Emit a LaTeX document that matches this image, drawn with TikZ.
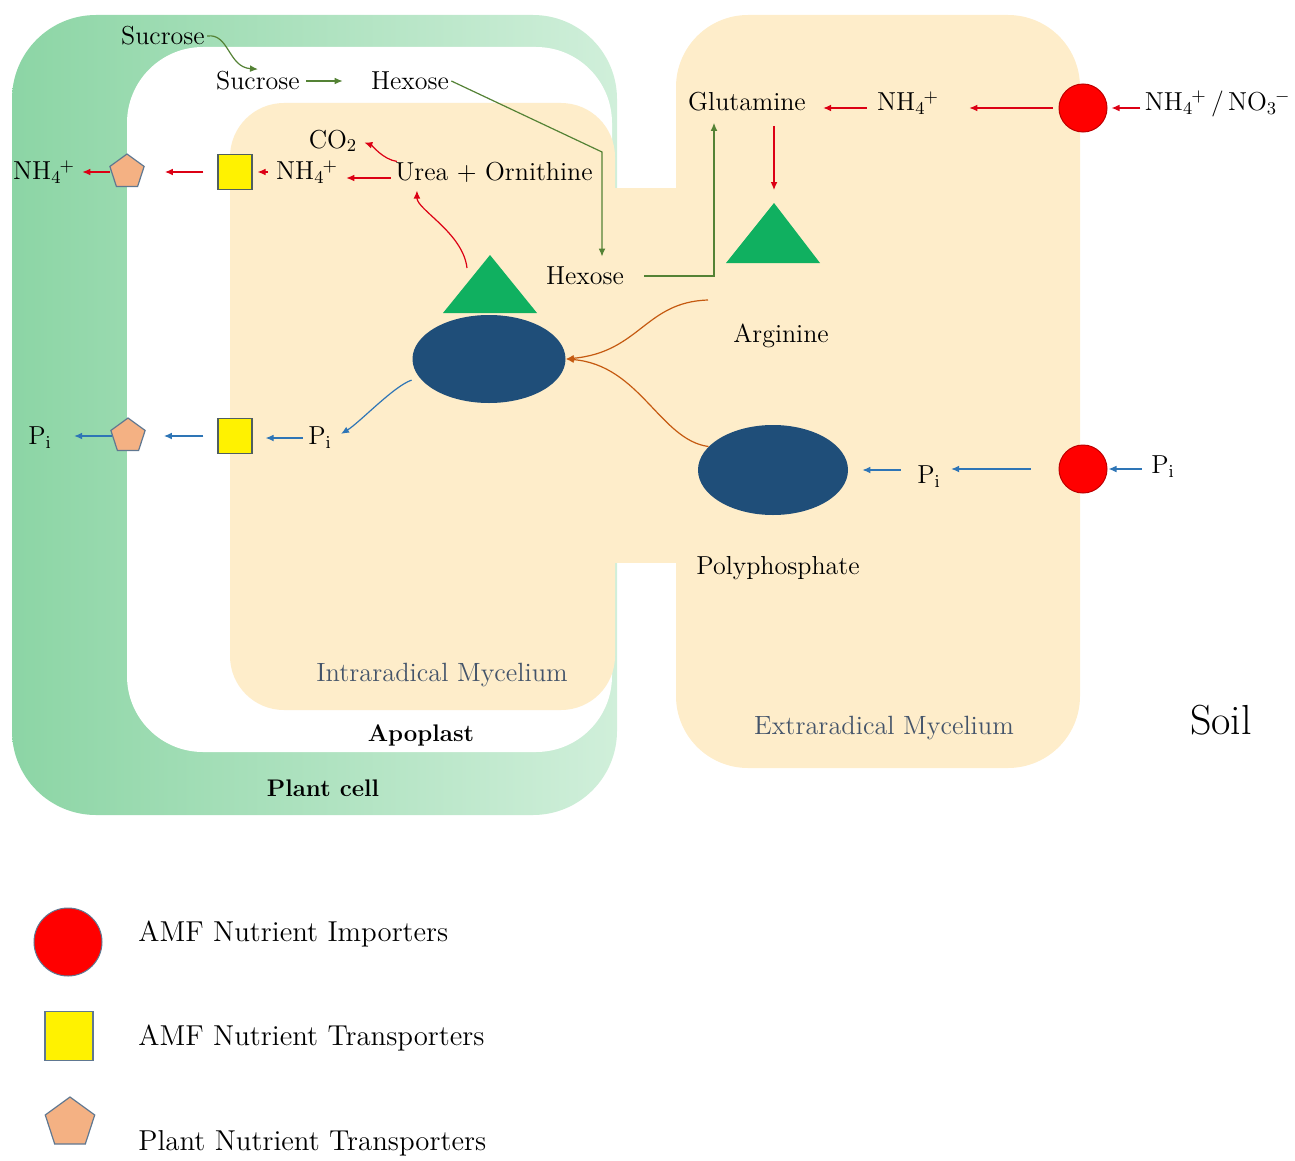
\documentclass[tikz,border=0pt]{standalone}
\usetikzlibrary{shapes.geometric,arrows.meta,calc}
\definecolor{myc}{RGB}{254,237,202}
\definecolor{pgL}{RGB}{140,213,165}
\definecolor{pgR}{RGB}{208,239,218}
\definecolor{dkblue}{RGB}{31,78,121}
\definecolor{trig}{RGB}{16,176,96}
\definecolor{arred}{RGB}{220,0,20}
\definecolor{arblue}{RGB}{46,117,182}
\definecolor{argreen}{RGB}{84,130,53}
\definecolor{arbrown}{RGB}{197,90,17}
\definecolor{pentc}{RGB}{244,177,131}
\definecolor{outl}{RGB}{96,120,145}
\definecolor{sqout}{RGB}{80,95,95}
\definecolor{labc}{RGB}{68,84,106}
\newcommand{\nhfour}{NH$_4\mkern-1.5mu{}^+$}
\begin{document}
\begin{tikzpicture}[x=0.5pt,y=-0.5pt,
 txt/.style={inner sep=1pt,font=\fontsize{13}{15}\selectfont},
 lab/.style={inner sep=1pt,font=\fontsize{13.2}{15}\selectfont,text=labc},
 boldlab/.style={inner sep=1pt,font=\fontsize{12}{14}\selectfont\bfseries},
 leg/.style={inner sep=0pt,anchor=west,font=\fontsize{14.4}{17}\selectfont},
 arr/.style={line width=0.6pt,-{Latex[length=4pt,width=3.4pt]}},
 redarr/.style={arr,draw=arred},
 bluearr/.style={arr,draw=arblue},
 grnarr/.style={arr,draw=argreen},
 brnarr/.style={arr,draw=arbrown},
 pent/.style={regular polygon,regular polygon sides=5,fill=pentc,draw=outl,line width=0.6pt,minimum size=18pt,inner sep=0pt},
 sqbox/.style={rectangle,fill=yellow,draw=sqout,line width=0.6pt,minimum width=17pt,minimum height=17.5pt,inner sep=0pt},
 imp/.style={circle,fill=red,draw={rgb,255:red,190;green,0;blue,0},line width=0.5pt,minimum size=24pt,inner sep=0pt},
 ell/.style={ellipse,fill=dkblue,inner sep=0pt},
 tri/.style={fill=trig},
]
\useasboundingbox (0,0) rectangle (1295,1161);
% regions
\shade[left color=pgL,right color=pgR,rounded corners=42pt] (12,15) rectangle (617,815);
\fill[white,rounded corners=38pt] (127,47) rectangle (612,752);
\fill[myc,rounded corners=27pt] (230,103) rectangle (615,710);
\fill[myc] (600,188) rectangle (690,563);
\fill[myc,rounded corners=36pt] (676,15) rectangle (1080,768);

% shapes
\fill[tri] (443,313) -- (490,255) -- (537,313) -- cycle;
\fill[tri] (726,263) -- (774,203) -- (820,263) -- cycle;
\coordinate (triLs) at (467,268);
\coordinate (triRtop) at (774,203);
\node[ell,minimum width=76.5pt,minimum height=44pt] (ellL) at (489,359) {};
\node[ell,minimum width=75pt,minimum height=45pt] (ellR) at (773,470) {};
\node[pent] (pentN) at (127,172) {};
\node[sqbox] (sqN) at (235,172) {};
\node[pent] (pentP) at (128,436) {};
\node[sqbox] (sqP) at (235,436) {};
\node[imp] (impN) at (1083,108) {};
\node[imp] (impP) at (1083,469) {};

% texts
\node[txt] (suc1) at (163,36) {Sucrose};
\node[txt] (suc2) at (258,81) {Sucrose};
\node[txt] (hex1) at (410,81) {Hexose};
\node[txt] (co2) at (333,141) {CO$_2$};
\node[txt] (nh4l) at (44,172) {\nhfour};
\node[txt] (nh4m) at (307,172) {\nhfour};
\node[txt] (urea) at (494,172) {Urea + Ornithine};
\node[txt] (hex2) at (585,276) {Hexose};
\node[txt] (glut) at (747,102) {Glutamine};
\node[txt] (nh4r) at (908,103) {\nhfour};
\node[txt,anchor=east,inner sep=0pt] (nh4no3) at (1291,104) {\nhfour\,/\,NO$_3\mkern-1.5mu{}^-$};
\node[txt] (arg) at (781,336) {Arginine};
\node[txt] (pil) at (40,438) {P$_\mathrm{i}$};
\node[txt] (pim) at (320,438) {P$_\mathrm{i}$};
\node[txt] (pir) at (929,477) {P$_\mathrm{i}$};
\node[txt] (pifr) at (1163,467) {P$_\mathrm{i}$};
\node[txt] (poly) at (778,568) {Polyphosphate};
\node[lab] (intra) at (442,675) {Intraradical Mycelium};
\node[lab] (extra) at (884,728) {Extraradical Mycelium};
\node[boldlab] (apo) at (421,735) {Apoplast};
\node[boldlab] (pcell) at (323,788) {Plant cell};
\node[inner sep=0pt,font=\fontsize{21}{24}\selectfont] (soil) at (1221,720) {Soil};

% carbon (green)
\coordinate (bendH) at (602,152);
\draw[grnarr] (suc1.east) .. controls +(22,-3) and +(-30,-2) .. (suc2.north);
\draw[grnarr,shorten <=2pt,shorten >=13pt] (suc2.east) -- (hex1.west);
\draw[grnarr,shorten >=4pt] (hex1.east) -- (bendH) -- (bendH |- hex2.north);
\draw[grnarr,shorten <=9pt,shorten >=4.5pt] (hex2.east) -| ([xshift=-16.5pt]glut.south);

% nitrogen (red)
\draw[redarr,shorten <=2pt,shorten >=2pt] (nh4no3.west |- impN.east) -- (impN.east);
\draw[redarr,shorten <=3pt,shorten >=14pt] (impN.west) -- (impN.west -| nh4r.east);
\draw[redarr,shorten <=4pt,shorten >=7.5pt] (nh4r.west |- impN.west) -- (glut.east |- impN.west);
\draw[redarr,shorten <=6pt,shorten >=6.5pt] (glut.south -| triRtop) -- (triRtop);
\draw[redarr,shorten >=3pt] (triLs) .. controls +(-4,-35) and +(0,25) .. ([xshift=12pt]urea.south west);
\draw[redarr,shorten >=2.5pt] ([xshift=2pt,yshift=-1pt]urea.north west) .. controls +(-14,-2) and +(12,4) .. (co2.east);
\draw[redarr,shorten <=1pt,shorten >=3pt] ([yshift=-3pt]urea.west) -- ([yshift=-3pt]nh4m.east);
\draw[redarr,shorten <=3pt,shorten >=2.5pt] (nh4m.west) -- (sqN.east);
\draw[redarr,shorten <=7pt,shorten >=11pt] (sqN.west) -- (pentN.east);
\draw[redarr,shorten <=0.5pt,shorten >=2.5pt] (pentN.west) -- (pentN.west -| nh4l.east);

% phosphate (blue) and arginine / polyphosphate (brown)
\draw[bluearr,shorten <=3.5pt,shorten >=0.5pt] (pifr.west |- impP.east) -- (impP.east);
\draw[bluearr,shorten <=14pt,shorten >=4pt] (impP.west) -- (impP.west -| pir.east);
\draw[bluearr,shorten <=7pt,shorten >=7pt] (pir.west |- ellR.east) -- (ellR.east);
\draw[brnarr] (ellR.160) .. controls (660,440) and (640,365) .. (ellL.east);
\coordinate (brA) at (708,300);
\draw[brnarr] (brA) .. controls (645,302) and (640,352) .. (ellL.east);
\draw[bluearr,shorten <=4pt,shorten >=4pt] (ellL.195) .. controls +(-25,8) and +(25,-15) .. (pim.east);
\draw[bluearr,shorten <=1.5pt,shorten >=6.5pt] (pim.west) -- (pim.west -| sqP.east);
\draw[bluearr,shorten <=7pt,shorten >=10pt] (sqP.west) -- (pentP.east);
\draw[bluearr,shorten <=0pt,shorten >=10pt] (pentP.west) -- (pentP.west -| pil.east);

% legend
\node[imp,minimum size=34pt,draw=outl] (legI) at (68,942) {};
\node[leg] (legIt) at (138,934) {AMF Nutrient Importers};
\node[sqbox,minimum width=24pt,minimum height=24.5pt,draw=outl] (legT) at (69,1036) {};
\node[leg] (legTt) at (138,1038) {AMF Nutrient Transporters};
\node[pent,minimum size=26pt] (legP) at (70,1123) {};
\node[leg] (legPt) at (138,1143) {Plant Nutrient Transporters};
\end{tikzpicture}
\end{document}
